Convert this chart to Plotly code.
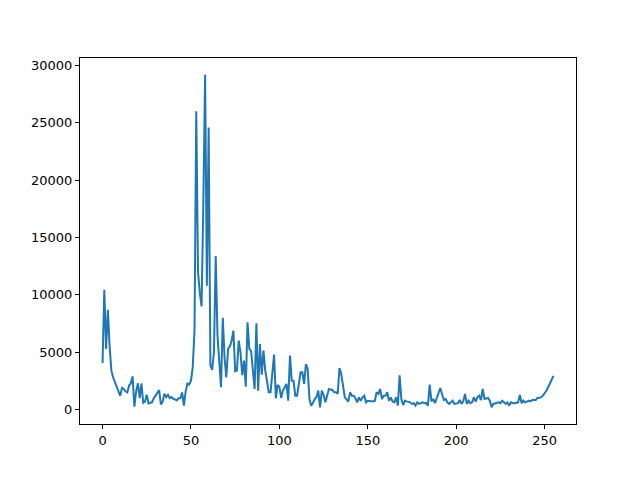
import plotly.graph_objs as go

# histogram counts per level (0..255)
counts = [
    4070, 10450, 5290, 8700, 5500, 3400, 2800, 2400, 2000, 1700,
    1200, 1900, 1800, 1600, 1500, 2100, 2300, 2900, 260, 1600,
    2300, 1000, 2300, 600, 700, 1300, 550, 600, 650, 1000,
    1250, 1400, 1700, 450, 700, 1400, 1100, 1300, 1000, 1100,
    950, 900, 800, 1000, 1000, 1500, 350, 1600, 2270, 2200,
    2530, 3690, 6890, 26000, 12000, 10200, 9000, 18000, 29200, 10800,
    24600, 3840, 3460, 5000, 13400, 6500, 4000, 1950, 8000, 4500,
    2820, 5320, 5500, 6000, 6890, 3340, 3400, 6020, 5000, 3000,
    4270, 2000, 7610, 5290, 5120, 3500, 1800, 7530, 1660, 5730,
    3050, 5140, 3400, 2500, 1510, 1510, 3000, 4800, 990, 2150,
    2000, 1020, 1660, 1900, 2240, 785, 4710, 2530, 2530, 1220,
    1220, 2200, 3250, 3250, 2240, 3980, 3550, 930, 350, 600,
    930, 1100, 1660, 200, 1660, 1280, 640, 1220, 1800, 1750,
    1720, 1510, 1510, 1400, 3630, 3110, 2240, 1070, 900, 700,
    1510, 1220, 1220, 1000, 640, 1070, 780, 1070, 1220, 640,
    780, 750, 720, 720, 780, 1510, 1370, 1800, 920, 1220,
    1220, 1510, 780, 1070, 720, 640, 1070, 350, 3000, 900,
    400, 785, 720, 680, 640, 500, 560, 350, 640, 500,
    560, 640, 560, 580, 350, 2180, 720, 930, 560, 1020,
    1310, 1890, 1370, 840, 930, 640, 500, 640, 785, 500,
    500, 560, 840, 500, 720, 1370, 500, 785, 560, 640,
    1070, 700, 1100, 1220, 840, 1800, 930, 950, 1020, 785,
    200, 500, 530, 560, 640, 560, 785, 650, 500, 640,
    350, 640, 560, 560, 600, 640, 1280, 560, 785, 640,
    700, 785, 720, 840, 840, 840, 1020, 1050, 1070, 1220,
    1420, 1650, 1950, 2300, 2600, 2950,
]
levels = list(range(len(counts)))

x_ticks = [0, 50, 100, 150, 200, 250]
y_ticks = [0, 5000, 10000, 15000, 20000, 25000, 30000]

# matplotlib-like 5% padding
xspan = levels[-1] - levels[0]
x_range = [levels[0] - 0.05 * xspan, levels[-1] + 0.05 * xspan]
yspan = max(counts) - min(counts)
y_range = [min(counts) - 0.05 * yspan, max(counts) + 0.05 * yspan]

fig = go.Figure()
fig.add_trace(go.Scatter(x=levels, y=counts, mode='lines',
                         line=dict(color='#1f77b4', width=2)))

axis_style = dict(showline=True, mirror=True, linecolor='black', linewidth=1,
                  ticks='outside', ticklen=4, tickcolor='black', tickwidth=1,
                  showgrid=False, zeroline=False, automargin=False,
                  tickformat='d',
                  tickfont=dict(family='DejaVu Sans', size=13, color='black'))

fig.update_xaxes(range=x_range, tickvals=x_ticks, **axis_style)
fig.update_yaxes(range=y_range, tickvals=y_ticks, **axis_style)

# page body adds an 8px margin, so the figure is 8px smaller each way
fig.update_layout(width=632, height=470, showlegend=False,
                  plot_bgcolor='white', paper_bgcolor='white',
                  margin=dict(l=72, r=64, t=50, b=54))

fig.write_html("out.html")
